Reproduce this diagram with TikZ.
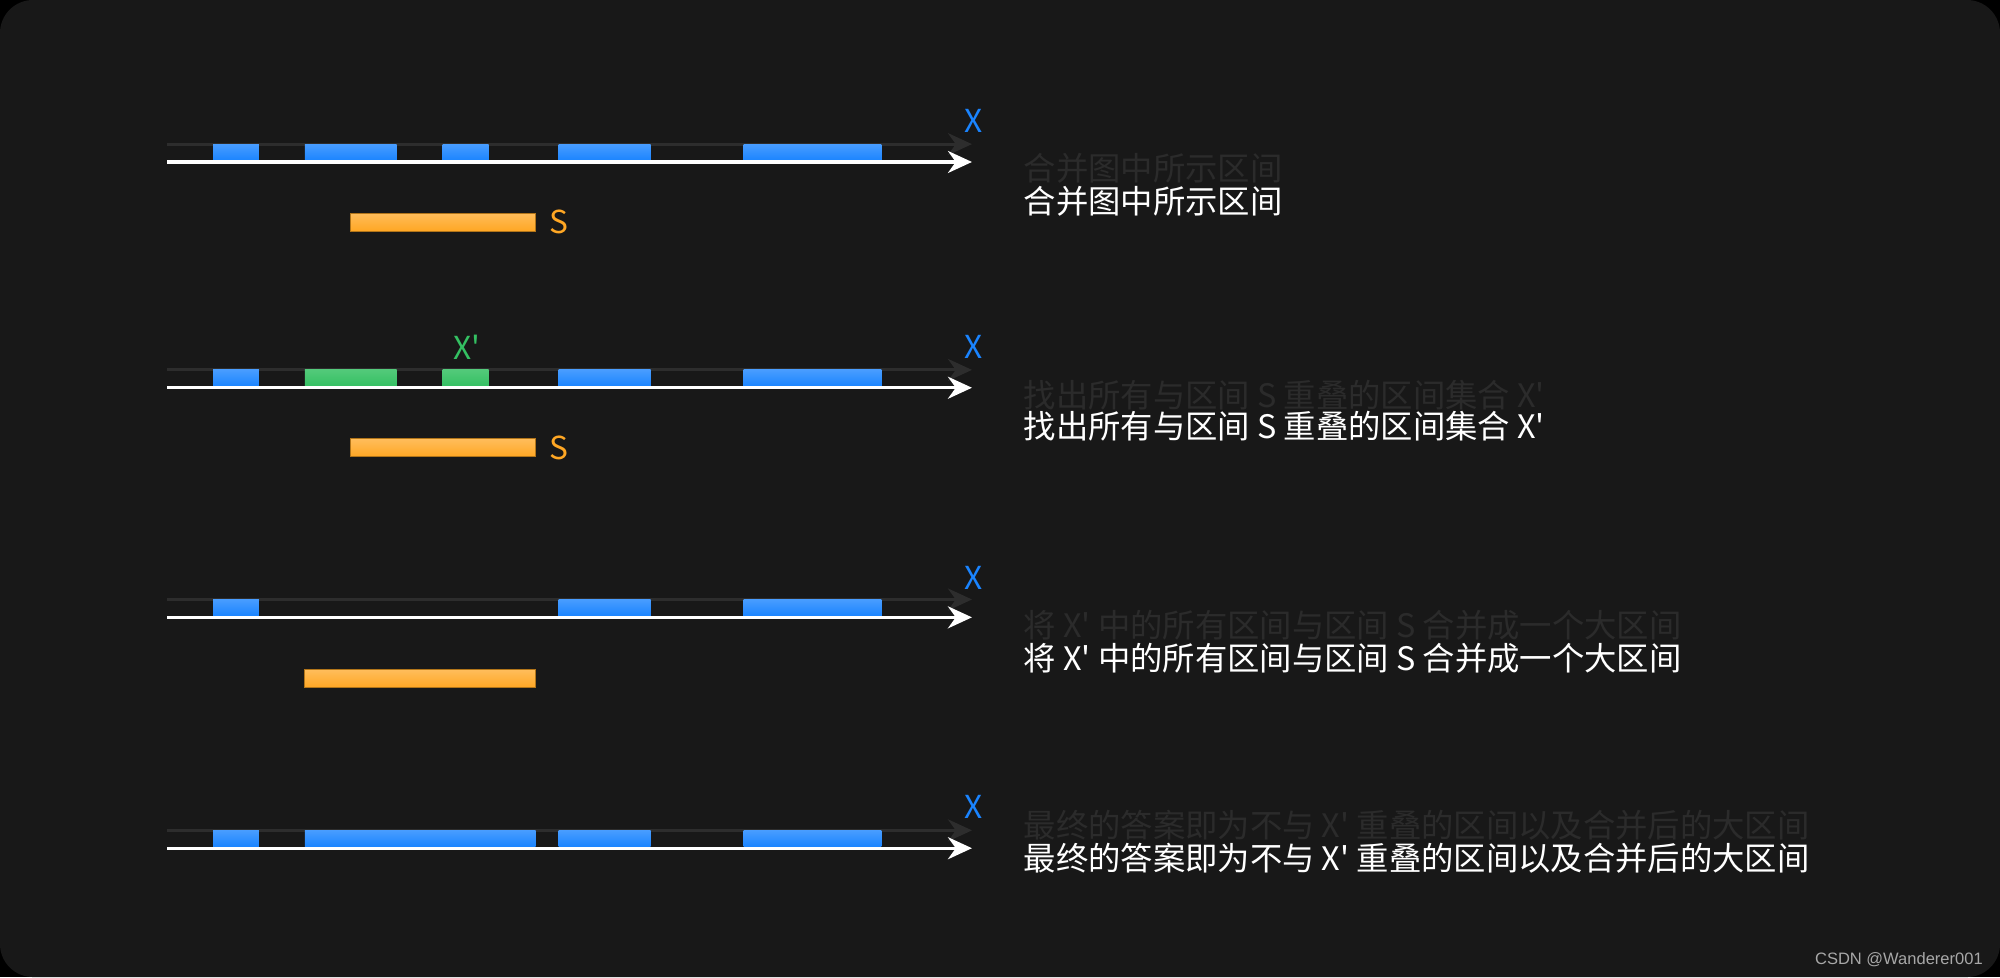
\documentclass[tikz,border=0pt]{standalone}
\usepackage{fontspec}
\setmainfont{Noto Sans CJK SC}[Ligatures=ResetAll]
\setsansfont{Liberation Sans}
\usetikzlibrary{arrows.meta}

\definecolor{bgcol}{HTML}{181818}
\definecolor{axisdark}{HTML}{2D2D2D}
\definecolor{ghostcol}{HTML}{2B2B2B}
\definecolor{xblue}{HTML}{1A84FF}
\definecolor{xgreen}{HTML}{34C062}
\definecolor{sorange}{HTML}{FFA724}
\definecolor{markgray}{HTML}{A8A8A8}

\newcommand{\xp}{X\textquotesingle}

\tikzset{
  axisback/.style={axisdark, line width=0.8pt, -{Stealth[length=2.4mm,width=2.2mm]}},
  axisfront/.style={white, line width=0.9pt, -{Stealth[length=2.4mm,width=2.2mm]}},
  bluebar/.style={top color=xblue!80!white, bottom color=xblue},
  greenbar/.style={top color=xgreen!85!white, bottom color=xgreen},
  orangebar/.style={top color=sorange!75!white, bottom color=sorange, draw=sorange!70!black, line width=0.2pt},
  lbl/.style={font=\fontsize{9}{11}\selectfont, inner sep=0pt},
  note/.style={font=\fontsize{9.2}{11}\selectfont, inner sep=0pt, anchor=west},
}

\begin{document}
\begin{tikzpicture}[x=0.12755mm, y=-0.12755mm]
  % background card
  \fill[black] (0,0) rectangle (1568,766);
  \fill[bgcol, rounded corners=3.3mm] (0,0) rectangle (1568,766);

  % axes of the four rows
  \foreach \oy in {0,177,357,538} {
    \draw[axisback] (131,113+\oy) -- (762,113+\oy);
  }

  % row 1: intervals and S
  \foreach \a/\b in {167/203, 239/311, 347/383, 438/510, 583/691}
    \shade[bluebar] (\a,113) rectangle (\b,126);
  \shade[orangebar] (275,167) rectangle (420,181);
  \node[lbl, text=xblue] (x1) at (763,95) {X};
  \node[lbl, text=sorange] (s1) at (438,174) {S};

  % row 2: overlapping ones in green
  \foreach \a/\b in {167/203, 438/510, 583/691}
    \shade[bluebar] (\a,290) rectangle (\b,303);
  \foreach \a/\b in {239/311, 347/383}
    \shade[greenbar] (\a,290) rectangle (\b,303);
  \shade[orangebar] (275,344) rectangle (420,358);
  \node[lbl, text=xblue] (x2) at (763,272) {X};
  \node[lbl, text=xgreen] (xp) at (366,272) {\xp};
  \node[lbl, text=sorange] (s2) at (438,351) {S};

  % row 3: merged S
  \foreach \a/\b in {167/203, 438/510, 583/691}
    \shade[bluebar] (\a,470) rectangle (\b,483);
  \shade[orangebar] (239,525) rectangle (420,539);
  \node[lbl, text=xblue] (x3) at (763,453) {X};

  % row 4: result
  \foreach \a/\b in {167/203, 239/420, 438/510, 583/691}
    \shade[bluebar] (\a,651) rectangle (\b,664);
  \node[lbl, text=xblue] (x4) at (763,633) {X};

  % front axes
  \foreach \oy in {0,177,357,538} {
    \draw[axisfront] (131,127+\oy) -- (762,127+\oy);
  }

  % captions with their faint echo
  \node[note, text=ghostcol] (g1) at (802,132) {合并图中所示区间};
  \node[note, text=white] (t1) at (802,158) {合并图中所示区间};
  \node[note, text=ghostcol] (g2) at (802,310) {找出所有与区间 S 重叠的区间集合 \xp};
  \node[note, text=white] (t2) at (802,334) {找出所有与区间 S 重叠的区间集合 \xp};
  \node[note, text=ghostcol] (g3) at (802,490) {将 \xp{} 中的所有区间与区间 S 合并成一个大区间};
  \node[note, text=white] (t3) at (802,516) {将 \xp{} 中的所有区间与区间 S 合并成一个大区间};
  \node[note, text=ghostcol] (g4) at (802,647) {最终的答案即为不与 \xp{} 重叠的区间以及合并后的大区间};
  \node[note, text=white] (t4) at (802,673) {最终的答案即为不与 \xp{} 重叠的区间以及合并后的大区间};

  % watermark
  \node[text=markgray, font=\sffamily\fontsize{4.7}{6}\selectfont, inner sep=0pt, anchor=east] (wm) at (1555,752) {CSDN @Wanderer001};
\end{tikzpicture}
\end{document}
